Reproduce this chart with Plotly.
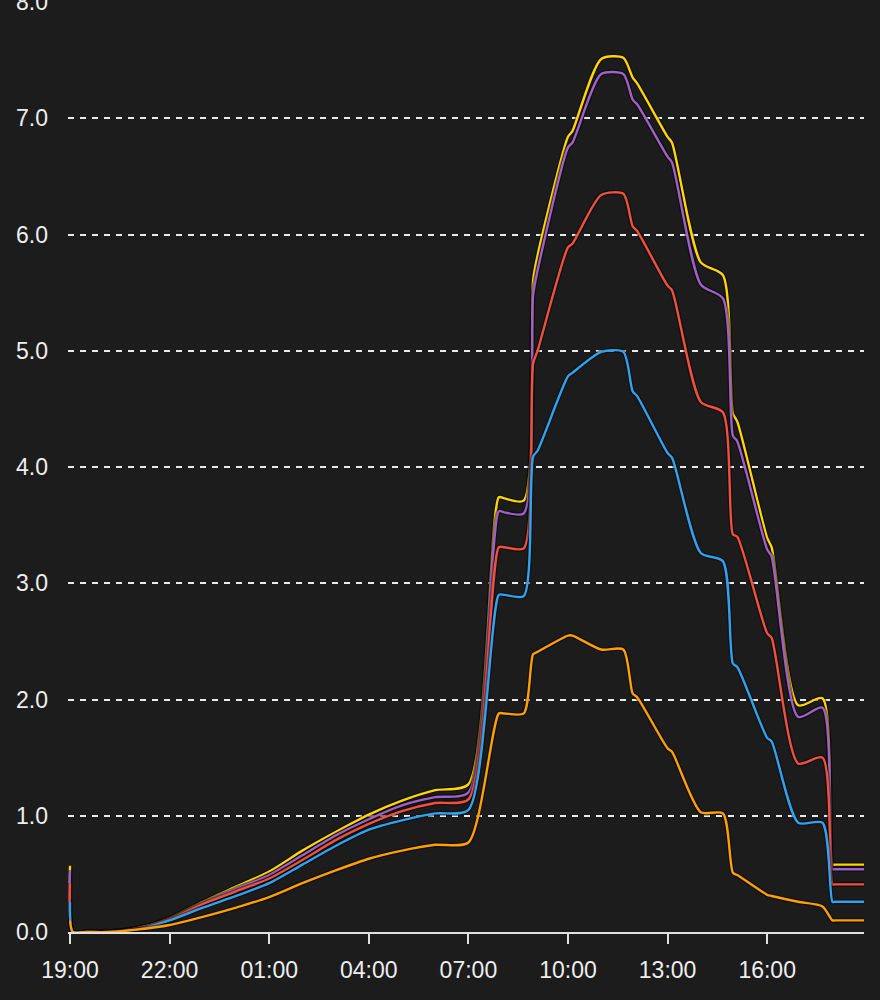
import plotly.graph_objects as go

times = [
    "2024-01-01 19:00", "2024-01-01 19:05", "2024-01-01 19:30", "2024-01-01 20:10",
    "2024-01-01 21:00", "2024-01-01 22:00", "2024-01-01 23:00", "2024-01-02 00:00",
    "2024-01-02 01:00", "2024-01-02 02:00", "2024-01-02 03:00", "2024-01-02 04:00",
    "2024-01-02 05:00", "2024-01-02 06:00", "2024-01-02 07:00", "2024-01-02 07:55",
    "2024-01-02 08:05", "2024-01-02 08:40", "2024-01-02 08:57", "2024-01-02 09:05",
    "2024-01-02 10:00", "2024-01-02 10:08",
    "2024-01-02 11:00", "2024-01-02 11:40", "2024-01-02 11:57", "2024-01-02 12:05",
    "2024-01-02 13:00", "2024-01-02 13:08", "2024-01-02 14:00", "2024-01-02 14:40",
    "2024-01-02 14:58", "2024-01-02 15:06", "2024-01-02 16:00", "2024-01-02 16:08",
    "2024-01-02 16:56", "2024-01-02 17:40", "2024-01-02 17:58", "2024-01-02 18:03",
    "2024-01-02 18:55",
]

yellow = [0.57, 0, 0, 0, 0.03, 0.12, 0.26, 0.39, 0.52, 0.70, 0.86, 1.01, 1.13, 1.22, 1.27,
          3.74, 3.73, 3.71, 5.61, 5.82, 6.84, 6.89, 7.51, 7.52, 7.35, 7.30, 6.84, 6.79, 5.76, 5.65,
          4.46, 4.39, 3.39, 3.31, 1.95, 2.01, 0.58, 0.58, 0.58]
purple = [0.53, 0, 0, 0, 0.03, 0.11, 0.25, 0.37, 0.49, 0.66, 0.83, 0.97, 1.09, 1.16, 1.20,
          3.62, 3.61, 3.60, 5.48, 5.69, 6.75, 6.79, 7.38, 7.38, 7.16, 7.12, 6.67, 6.62, 5.57, 5.45,
          4.27, 4.22, 3.29, 3.23, 1.85, 1.93, 0.54, 0.54, 0.54]
red = [0.42, 0, 0, 0, 0.03, 0.11, 0.24, 0.35, 0.46, 0.62, 0.79, 0.93, 1.04, 1.11, 1.14,
       3.31, 3.31, 3.30, 4.89, 5.00, 5.89, 5.92, 6.34, 6.35, 6.07, 6.03, 5.56, 5.52, 4.56, 4.47,
       3.42, 3.40, 2.57, 2.53, 1.45, 1.50, 0.41, 0.41, 0.41]
blue = [0.26, 0, 0, 0, 0.02, 0.10, 0.21, 0.31, 0.42, 0.58, 0.74, 0.88, 0.96, 1.02, 1.05,
        2.90, 2.90, 2.89, 4.09, 4.14, 4.78, 4.81, 4.99, 4.99, 4.65, 4.61, 4.12, 4.08, 3.26, 3.19,
        2.31, 2.28, 1.67, 1.64, 0.94, 0.94, 0.26, 0.26, 0.26]
orange = [0.10, 0, 0, 0, 0.02, 0.06, 0.13, 0.21, 0.30, 0.42, 0.53, 0.63, 0.70, 0.75, 0.77,
          1.88, 1.88, 1.88, 2.39, 2.41, 2.55, 2.55, 2.43, 2.43, 2.05, 2.02, 1.58, 1.55, 1.03, 1.02,
          0.51, 0.49, 0.32, 0.31, 0.26, 0.22, 0.10, 0.10, 0.10]

series = [
    ("Yellow", yellow, "#FFD600"),
    ("Purple", purple, "#A15FC8"),
    ("Red", red, "#F0503C"),
    ("Blue", blue, "#2EA3F2"),
    ("Orange", orange, "#FF9F00"),
]

y_ticks = [0, 1, 2, 3, 4, 5, 6, 7, 8]

fig = go.Figure()
for name, vals, color in series:
    fig.add_trace(go.Scatter(x=times, y=vals, mode="lines", hoverinfo="skip",
                             line=dict(color="rgba(0,0,0,0.45)", width=5, shape="spline", smoothing=0.7),
                             showlegend=False))
    fig.add_trace(go.Scatter(x=times, y=vals, mode="lines", name=name,
                             line=dict(color=color, width=2.4, shape="spline", smoothing=0.7),
                             showlegend=False))

fig.update_layout(
    width=880, height=1000,
    paper_bgcolor="#1c1c1c", plot_bgcolor="#1c1c1c",
    margin=dict(l=68, r=16, t=2, b=68, autoexpand=False),
    font=dict(family="Liberation Sans, Arial, sans-serif", color="#eeeeee", size=23),
    showlegend=False,
    xaxis=dict(
        type="date", automargin=False,
        range=["2024-01-01 18:56:20", "2024-01-02 18:55"],
        tick0="2024-01-01 19:00", dtick=3 * 3600 * 1000, tickformat="%H:%M",
        ticks="outside", ticklen=10, tickwidth=2, tickcolor="#e0e0e0",
        showline=True, linecolor="#e0e0e0", linewidth=2,
        showgrid=False, zeroline=False,
        ticklabelstandoff=6,
        tickfont=dict(size=23, color="#eeeeee"),
    ),
    yaxis=dict(
        range=[0, 8], tickvals=y_ticks, tickformat=".1f", automargin=False,
        showgrid=True, gridcolor="#e8e8e8", gridwidth=2, griddash="6px,6px",
        zeroline=False, showline=False, ticks="",
        ticklabelstandoff=19, ticklabeloverflow="allow",
        tickfont=dict(size=23, color="#eeeeee"),
    ),
)

fig.write_html("out.html")
